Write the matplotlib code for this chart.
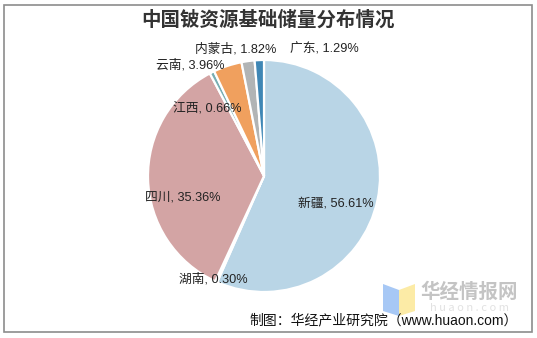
"""中国铍资源基础储量分布情况 — 饼图复刻."""
import matplotlib
matplotlib.use("Agg")
import matplotlib.pyplot as plt
from matplotlib.patches import Polygon, Rectangle

plt.rcParams["font.family"] = ["Noto Sans CJK SC", "DejaVu Sans"]
LABEL_FONT = ["Liberation Sans", "Noto Sans CJK SC"]

W, H = 537, 338

regions = ["新疆", "湖南", "四川", "江西", "云南", "内蒙古", "广东"]
shares = [56.61, 0.30, 35.36, 0.66, 3.96, 1.82, 1.29]
colors = ["#B9D5E6", "#E9EEF1", "#D3A4A4", "#78AEB3", "#F0A05E", "#B1B4B5", "#3F87B5"]
# label centres in pixels (from top-left)
label_pos = [(336, 203), (213, 279), (183, 197), (207, 108),
             (190, 65), (236, 49), (324, 49)]


def px(x, y):
    return x / W, 1 - y / H


fig = plt.figure(figsize=(W / 100, H / 100), dpi=100)
fig.patch.set_facecolor("white")

# pie axes: centre (264,176), radius 116 px
cx, cy, r = 264, 176, 116
ax = fig.add_axes([(cx - r) / W, (H - cy - r) / H, 2 * r / W, 2 * r / H])
ax.pie(shares, colors=colors, startangle=90, counterclock=False, radius=1,
       wedgeprops=dict(edgecolor="white", linewidth=1.6))
ax.set_xlim(-1.0, 1.0)
ax.set_ylim(-1.0, 1.0)
ax.set_aspect("equal")
ax.axis("off")

for name, v, (lx, ly) in zip(regions, shares, label_pos):
    fig.text(*px(lx, ly), f"{name}, {v:.2f}%", ha="center", va="center",
             fontsize=9.2, color="#222222", family=LABEL_FONT)

fig.text(*px(268, 20), "中国铍资源基础储量分布情况", ha="center", va="center",
         fontsize=14, fontweight="bold", color="#333333")

# watermark logo
blue = [px(383, 284), px(399, 290), px(399, 316), px(383, 311)]
yellow = [px(399, 290), px(415, 284), px(415, 311), px(399, 316)]
fig.patches.append(Polygon(blue, closed=True, transform=fig.transFigure,
                           facecolor="#A7C8F5", edgecolor="none"))
fig.patches.append(Polygon(yellow, closed=True, transform=fig.transFigure,
                           facecolor="#FCEBA6", edgecolor="none"))
fig.text(*px(469, 292), "华经情报网", ha="center", va="center",
         fontsize=14, fontweight="bold", color="#C4C4C4")
fig.text(*px(469, 308), "h u a o n . c o m", ha="center", va="center",
         fontsize=8, color="#E2E2E2")

fig.text(*px(384, 320), "制图：华经产业研究院（www.huaon.com）", ha="center",
         va="center", fontsize=10, color="#111111", family=LABEL_FONT)

# outer frame
x0, y0 = px(4, 332)
x1, y1 = px(532, 5)
fig.patches.append(Rectangle((x0, y0), x1 - x0, y1 - y0, transform=fig.transFigure,
                             fill=False, edgecolor="#8C8C8C", linewidth=1.2))

fig.savefig("out.png", dpi=100)
